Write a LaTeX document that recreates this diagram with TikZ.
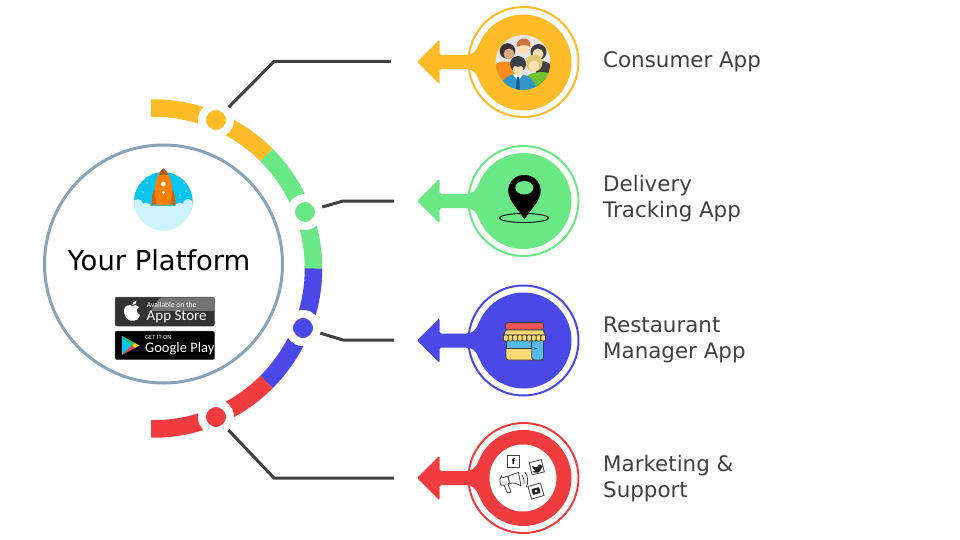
\documentclass[tikz,border=0pt]{standalone}
\usepackage{fontspec}
\setmainfont{DejaVu Sans}
\newfontfamily\badgefont{Carlito}
\usetikzlibrary{calc}
\definecolor{cyel}{HTML}{FDBB27}
\definecolor{cgrn}{HTML}{69E885}
\definecolor{cblu}{HTML}{4A48E6}
\definecolor{cred}{HTML}{F03C3E}
\definecolor{cline}{HTML}{404040}
\definecolor{cplat}{HTML}{88A2B8}
\tikzset{
 ringarc/.style={line width=17.5pt,line cap=butt},
 halodot/.style={circle,inner sep=0pt,minimum size=28pt,draw=white,line width=8pt,fill=#1},
 linkline/.style={draw=cline,line width=3pt},
 outerring/.style={circle,inner sep=0pt,minimum size=110pt,draw=#1,line width=2pt,fill=white},
 bigdisk/.style={circle,inner sep=0pt,minimum size=96pt,fill=#1},
 applabel/.style={anchor=west,align=left,text=cline,font=\fontsize{21.4}{26}\selectfont},
 badgebox/.style={rounded corners=2pt,draw=#1,line width=.5pt},
 badgetext/.style={text=white,anchor=base west,inner sep=0pt},
 pictline/.style={draw=black!75,line width=.8pt,fill=white},
}
\newcommand{\bigarrow}[2]{%
 \fill[#2,rounded corners=1.5pt] (417,#1) -- (439.5,{#1-22.5}) -- (439.5,{#1-7}) -- (472,{#1-7}) -- (472,{#1+7}) -- (439.5,{#1+7}) -- (439.5,{#1+22.5}) -- cycle;
 \fill[#2] (466,{#1-7}) .. controls (472,{#1-7}) and (476,{#1-10}) .. (479,{#1-18}) -- (490,#1) -- (479,{#1+18}) .. controls (476,{#1+10}) and (472,{#1+7}) .. (466,{#1+7}) -- cycle;
}
\begin{document}
\begin{tikzpicture}[x=1pt,y=-1pt]
\useasboundingbox (0,0) rectangle (960,540);
\fill[white] (0,0) rectangle (960,540);
% ring
\coordinate (rc) at (153,268.5);
\draw[ringarc,cyel] ($(rc)+(-90.7:160.5)$) arc[start angle=-90.7,end angle=-45,radius=160.5];
\draw[ringarc,cgrn] ($(rc)+(-45:160.5)$) arc[start angle=-45,end angle=0.2,radius=160.5];
\draw[ringarc,cblu] ($(rc)+(0:160.5)$) arc[start angle=0,end angle=45,radius=160.5];
\draw[ringarc,cred] ($(rc)+(45:160.5)$) arc[start angle=45,end angle=90.7,radius=160.5];
% platform circle
\node[circle,draw=cplat,line width=3pt,fill=white,inner sep=0pt,minimum size=238pt] (platform) at (163.5,264) {};
\node[anchor=base,inner sep=0pt,text=black,font=\fontsize{27.4}{32}\selectfont] (ptitle) at (159,270) {Your Platform};
% rocket
\begin{scope}
 \clip (163.3,201.4) circle[radius=29.3];
 \fill[color={rgb,255:red,10;green,196;blue,240}] (130,170) rectangle (195,210);
 \fill[color={rgb,255:red,205;green,243;blue,253}] (130,206) rectangle (195,232);
 \foreach \cx/\cy/\cr in {138/204/5,146/208/5.5,154/211/5.5,163/213/5.5,172/211/5.5,180/208/5.5,188/204/5}
  \fill[color={rgb,255:red,205;green,243;blue,253}] (\cx,\cy) circle[radius=\cr];
\end{scope}
\foreach \sx/\sy in {147/183,184/183,186/191,180/195,143/192}
 \fill[white,opacity=.6] (\sx,\sy) circle[radius=.8];
\fill[color={rgb,255:red,205;green,100;blue,10}] (156,188) .. controls (152,193) and (151,199) .. (152,206) -- (158,203) -- (169,203) -- (175,206) .. controls (176,199) and (175,193) .. (171,188) -- cycle;
\fill[color={rgb,255:red,255;green,127;blue,0}] (163.4,168.5) .. controls (158,173) and (155,181) .. (155,191) .. controls (155,197) and (156,201) .. (157,205) -- (170,205) .. controls (171,201) and (172,197) .. (172,191) .. controls (172,181) and (169,173) .. (163.4,168.5) -- cycle;
\fill[color={rgb,255:red,170;green,95;blue,30}] (163.4,168.5) .. controls (161,170.5) and (159.5,172.5) .. (158.5,175) -- (168.5,175) .. controls (167.5,172.5) and (166,170.5) .. (163.4,168.5) -- cycle;
\fill[white] (163.4,184) circle[radius=2.3];
\fill[white] (163.4,192.3) circle[radius=1.6];
% App Store badge
\fill[badgebox=black!60,fill=black!80] (115,297) rectangle (214.5,326);
\fill[black!55,rounded corners=2pt] (160,297.3) -- (214.2,297.3) -- (214.2,312) -- (150,312) -- cycle;
\fill[black!80] (150,311) rectangle (214,325.5);
\fill[white] (132.5,306) .. controls (134,305) and (137,304.5) .. (139,307) .. controls (136,309) and (136,313) .. (140,315) .. controls (138.5,319) and (136.5,321) .. (134.5,320.5) .. controls (133,320) and (132,320) .. (130.5,320.5) .. controls (127,321) and (123.5,314) .. (124,310) .. controls (124.5,305.5) and (129,304) .. (132.5,306) -- cycle;
\fill[white] (132.2,305) .. controls (132,303) and (134,301) .. (136.5,300.7) .. controls (136.7,303) and (135,305) .. (132.2,305) -- cycle;
\node[badgetext,font=\badgefont\fontsize{7.6}{9}\selectfont] (astop) at (146.7,307) {Available on the};
\node[badgetext,font=\badgefont\fontsize{15}{17}\selectfont] (asmain) at (146.5,320) {App Store};
% Google Play badge
\fill[badgebox=black!70,fill=black] (115,331) rectangle (214.5,359.5);
\fill[color={rgb,255:red,0;green,200;blue,240}] (122,336) -- (132,345.5) -- (122,355) -- cycle;
\fill[color={rgb,255:red,50;green,200;blue,110}] (122,336) -- (135,343) -- (132,345.5) -- cycle;
\fill[color={rgb,255:red,240;green,60;blue,70}] (122,355) -- (135,348) -- (132,345.5) -- cycle;
\fill[color={rgb,255:red,255;green,205;blue,0}] (135,343) -- (139.5,345.5) -- (135,348) -- (132,345.5) -- cycle;
\node[badgetext,font=\badgefont\fontsize{6.4}{8}\selectfont] (gptop) at (145,339.3) {GET IT ON};
\node[badgetext,font=\badgefont\fontsize{14.5}{16}\selectfont] (gpmain) at (145,352.8) {Google Play};
% dots
\node[halodot=cyel] (dotA) at (216,120) {};
\node[halodot=cgrn] (dotB) at (305,212) {};
\node[halodot=cblu] (dotC) at (303,328) {};
\node[halodot=cred] (dotD) at (216,417) {};
% connectors
\coordinate (kneeA) at (274,61.5); \coordinate (endA) at (391,61.5);
\coordinate (kneeB) at (343,201); \coordinate (endB) at (394,201);
\coordinate (kneeC) at (343,340); \coordinate (endC) at (394,340);
\coordinate (kneeD) at (274,478); \coordinate (endD) at (394,478);
\draw[linkline] (dotA) -- (kneeA) -- (endA);
\draw[linkline] (dotB) -- (kneeB) -- (endB);
\draw[linkline] (dotC) -- (kneeC) -- (endC);
\draw[linkline] (dotD) -- (kneeD) -- (endD);
% big items
\node[outerring=cyel] (ringA) at (523.5,62) {};
\node[outerring=cgrn] (ringB) at (523.5,201) {};
\node[outerring=cblu] (ringC) at (523.5,340.5) {};
\node[outerring=cred] (ringD) at (523.5,478) {};
\bigarrow{62}{cyel}
\bigarrow{201}{cgrn}
\bigarrow{340.5}{cblu}
\bigarrow{478}{cred}
\node[bigdisk=cyel] (diskA) at (523.5,62.5) {};
\node[bigdisk=cgrn] (diskB) at (523.5,201) {};
\node[bigdisk=cblu] (diskC) at (523.5,340.5) {};
\node[bigdisk=cred] (diskD) at (523.5,478) {};
% people icon
\begin{scope}
 \clip (523,62.5) circle[radius=27.5];
 \fill[black!10] (495,35) rectangle (551,90);
 % back right
 \fill[black!75] (536,72) .. controls (536,60) and (544,58) .. (552,66) -- (552,90) -- (536,90) -- cycle;
 \fill[color={rgb,255:red,60;green,60;blue,65}] (538.5,52) circle[radius=8];
 \fill[color={rgb,255:red,253;green,221;blue,180}] (538,54) circle[radius=5.5];
 % back centre
 \fill[color={rgb,255:red,253;green,221;blue,180}] (523.5,47.5) circle[radius=6.5];
 \fill[color={rgb,255:red,205;green,115;blue,60}] (516.5,47) .. controls (516,40) and (522,38) .. (525,38.5) .. controls (529,39) and (531,43) .. (530.5,47) .. controls (528,45) and (522,44) .. (516.5,47) -- cycle;
 % back left
 \fill[color={rgb,255:red,60;green,50;blue,55}] (507.5,51) circle[radius=7.8];
 \fill[color={rgb,255:red,215;green,170;blue,130}] (509,54) circle[radius=5.5];
 \fill[color={rgb,255:red,250;green,140;blue,25}] (494,66) .. controls (498,60) and (510,60) .. (516,66) -- (516,92) -- (494,92) -- cycle;
 % front right
 \fill[color={rgb,255:red,110;green,195;blue,55}] (524,80) .. controls (526,72) and (544,70) .. (550,74) -- (550,92) -- (524,92) -- cycle;
 \fill[color={rgb,255:red,225;green,200;blue,110}] (534,63) circle[radius=8.5];
 \fill[color={rgb,255:red,253;green,225;blue,180}] (534,66) circle[radius=5.5];
 % front centre
 \fill[color={rgb,255:red,50;green,150;blue,200}] (500,92) .. controls (500,78) and (510,74) .. (518,74) .. controls (526,74) and (536,78) .. (536,92) -- cycle;
 \fill[white] (513,74.5) -- (523,74.5) -- (518,81) -- cycle;
 \fill[color={rgb,255:red,20;green,90;blue,140}] (516.8,77) -- (519.2,77) -- (520,90) -- (516,90) -- cycle;
 \fill[color={rgb,255:red,60;green,62;blue,72}] (518,64) circle[radius=8];
 \fill[color={rgb,255:red,253;green,225;blue,180}] (518,67) .. controls (512,64) and (512,70) .. (514,73) .. controls (516,76) and (520,76) .. (522,73) .. controls (524,70) and (524,64) .. (518,67) -- cycle;
\end{scope}
% pin icon
\draw[black,line width=.9pt] (524,218) ellipse[x radius=24.5,y radius=4.5];
\fill[black] (524.3,219.5) .. controls (519,210) and (508.2,201) .. (508.2,191) .. controls (508.2,181) and (516,175) .. (524.3,175) .. controls (533,175) and (540.7,181) .. (540.7,191) .. controls (540.7,201) and (530,210) .. (524.3,219.5) -- cycle;
\fill[cgrn] (524.3,187.7) ellipse[x radius=9,y radius=6.8];
% store icon
\begin{scope}[draw=black!75,line width=.8pt]
 \filldraw[color=black!75,fill={rgb,255:red,253;green,217;blue,115},rounded corners=2.5pt] (506,338) rectangle (543.5,360);
 \filldraw[color=black!75,fill={rgb,255:red,85;green,185;blue,235},rounded corners=2.5pt] (531.8,338) -- (543.5,338) -- (543.5,360) -- (531.8,360) -- cycle;
 \filldraw[color=black!75,fill={rgb,255:red,85;green,185;blue,235}] (506,338) rectangle (531.8,348);
 \filldraw[color=black!75,fill={rgb,255:red,245;green,85;blue,85},rounded corners=2.5pt] (505.5,330) -- (505.5,322.5) -- (543.5,322.5) -- (543.5,330) -- cycle;
 \filldraw[color=black!75,fill={rgb,255:red,253;green,217;blue,115}] (506,330) -- (543,330) -- (545.5,335) -- (503.5,335) -- cycle;
 \foreach \k in {0,...,8} {
  \filldraw[color=black!75,fill={rgb,255:red,253;green,217;blue,115},rounded corners=1pt] ({503.5+\k*4.67},335) rectangle ({503.5+(\k+1)*4.67},341);
 }
 \fill[black!80] (534,348) rectangle (536.5,348.7);
\end{scope}
% marketing icon
\fill[white] (523,478) circle[radius=33.5];
\begin{scope}
 \node[rectangle,draw=black!75,line width=.9pt,fill=white,minimum size=12pt,inner sep=0pt,font=\bfseries\fontsize{8}{8}\selectfont] (fbox) at (513.5,461.5) {f};
 \draw[pictline,rotate around={14:(536.7,467.3)}] (530.5,461) rectangle (543,473.5);
 \fill[black!85] (531.8,465.5) .. controls (534,467) and (536,467.5) .. (537.5,467) .. controls (537.5,464) and (541,463.5) .. (542,466) -- (543,466) -- (541.5,468) .. controls (541,473) and (535,474) .. (532.5,471.5) .. controls (534,471.7) and (535,471) .. (535.5,470.5) .. controls (533.5,470) and (532,468) .. (531.8,465.5) -- cycle;
 \draw[pictline,rotate around={16:(536,491)}] (529.5,484.5) rectangle (542.5,497.5);
 \fill[black!85,rotate around={16:(536,491)},rounded corners=.8pt] (532,488) rectangle (540,494);
 \fill[white] (536,491) circle[radius=1.3];
 % megaphone
 \draw[pictline,line join=round] (508,476) -- (518.5,472.5) -- (521,486) .. controls (517,483) and (512,482) .. (509.5,484) -- cycle;
 \draw[pictline,fill=white,rounded corners=2pt] (501.5,478) -- (508,476) -- (509.5,484) -- (503,485.5) .. controls (500,485) and (500,479) .. (501.5,478) -- cycle;
 \draw[pictline] (504,485) -- (507.5,493) -- (511,492) -- (508,484);
 \draw[black!75,line width=.8pt] (522,475) .. controls (524,478) and (524.5,481) .. (524,484);
 \draw[black!75,line width=.8pt] (525,472) .. controls (528,476) and (528.5,482) .. (526.5,487);
\end{scope}
% labels
\node[applabel,inner sep=0pt] (labA) at (603,62) {Consumer App};
\node[applabel,inner sep=0pt] (labB) at (603,199) {Delivery\\Tracking App};
\node[applabel,inner sep=0pt] (labC) at (603,340) {Restaurant\\Manager App};
\node[applabel,inner sep=0pt] (labD) at (603,479) {Marketing \&\\Support};
\end{tikzpicture}
\end{document}
